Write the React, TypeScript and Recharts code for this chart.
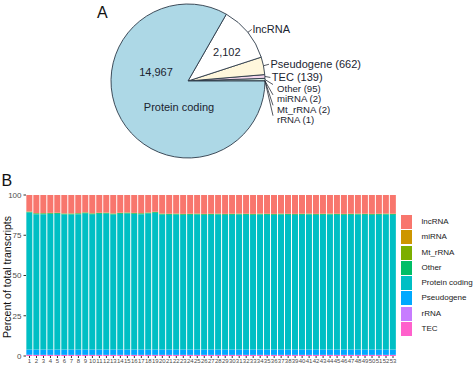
import React from 'react';
import { PieChart, Pie, Cell, BarChart, Bar, XAxis, YAxis } from 'recharts';

// ---- Panel A: transcript biotype counts ----
const pieNames = ['rRNA', 'Mt_rRNA', 'miRNA', 'Other', 'TEC', 'Pseudogene', 'lncRNA', 'Protein coding'];
const pieValues = [1, 2, 2, 95, 139, 662, 2102, 14967];
const pieColors = ['#e6d6f2', '#dcebd2', '#f2e4c4', '#d6efe2', '#f5d8ec', '#fff7dc', '#ffffff', '#add8e6'];

// ---- Panel B: per-sample percentages ----
const samples = [
  '1', '2', '3', '4', '5', '6', '7', '8', '9', '10',
  '11', '12', '13', '14', '15', '16', '17', '18', '19', '20',
  '21', '22', '23', '24', '25', '26', '27', '28', '29', '30',
  '31', '32', '33', '34', '35', '36', '37', '38', '39', '40',
  '41', '42', '43', '44', '45', '46', '47', '48', '49', '50',
  '51', '52', '53',
];
const lncRNA = [
  10.2, 11.2, 11.2, 11.1, 11.0, 11.4, 11.4, 11.2, 10.7, 11.3,
  11.0, 10.9, 11.4, 11.0, 10.8, 11.1, 11.2, 10.8, 10.4, 11.5,
  11.6, 11.5, 11.7, 11.6, 11.5, 11.7, 11.6, 11.5, 11.7, 11.6,
  11.5, 11.6, 11.7, 11.5, 11.6, 11.7, 11.5, 11.6, 11.7, 11.6,
  11.5, 11.7, 11.6, 11.5, 11.6, 11.7, 11.6, 11.5, 11.6, 11.7,
  11.6, 11.5, 11.6,
];
const proteinCoding = [
  85.08, 84.08, 84.08, 84.18, 84.28, 83.88, 83.88, 84.08, 84.58, 83.98,
  84.28, 84.38, 83.88, 84.28, 84.48, 84.18, 84.08, 84.48, 84.88, 83.78,
  83.68, 83.78, 83.58, 83.68, 83.78, 83.58, 83.68, 83.78, 83.58, 83.68,
  83.78, 83.68, 83.58, 83.78, 83.68, 83.58, 83.78, 83.68, 83.58, 83.68,
  83.78, 83.58, 83.68, 83.78, 83.68, 83.58, 83.68, 83.78, 83.68, 83.58,
  83.68, 83.78, 83.68,
];
const pseudogene = [
  3.3, 3.3, 3.3, 3.3, 3.3, 3.3, 3.3, 3.3, 3.3, 3.3,
  3.3, 3.3, 3.3, 3.3, 3.3, 3.3, 3.3, 3.3, 3.3, 3.3,
  3.3, 3.3, 3.3, 3.3, 3.3, 3.3, 3.3, 3.3, 3.3, 3.3,
  3.3, 3.3, 3.3, 3.3, 3.3, 3.3, 3.3, 3.3, 3.3, 3.3,
  3.3, 3.3, 3.3, 3.3, 3.3, 3.3, 3.3, 3.3, 3.3, 3.3,
  3.3, 3.3, 3.3,
];
const tec = [
  0.7, 0.7, 0.7, 0.7, 0.7, 0.7, 0.7, 0.7, 0.7, 0.7,
  0.7, 0.7, 0.7, 0.7, 0.7, 0.7, 0.7, 0.7, 0.7, 0.7,
  0.7, 0.7, 0.7, 0.7, 0.7, 0.7, 0.7, 0.7, 0.7, 0.7,
  0.7, 0.7, 0.7, 0.7, 0.7, 0.7, 0.7, 0.7, 0.7, 0.7,
  0.7, 0.7, 0.7, 0.7, 0.7, 0.7, 0.7, 0.7, 0.7, 0.7,
  0.7, 0.7, 0.7,
];
const rRNA = [
  0.01, 0.01, 0.01, 0.01, 0.01, 0.01, 0.01, 0.01, 0.01, 0.01,
  0.01, 0.01, 0.01, 0.01, 0.01, 0.01, 0.01, 0.01, 0.01, 0.01,
  0.01, 0.01, 0.01, 0.01, 0.01, 0.01, 0.01, 0.01, 0.01, 0.01,
  0.01, 0.01, 0.01, 0.01, 0.01, 0.01, 0.01, 0.01, 0.01, 0.01,
  0.01, 0.01, 0.01, 0.01, 0.01, 0.01, 0.01, 0.01, 0.01, 0.01,
  0.01, 0.01, 0.01,
];
const other = [
  0.5, 0.5, 0.5, 0.5, 0.5, 0.5, 0.5, 0.5, 0.5, 0.5,
  0.5, 0.5, 0.5, 0.5, 0.5, 0.5, 0.5, 0.5, 0.5, 0.5,
  0.5, 0.5, 0.5, 0.5, 0.5, 0.5, 0.5, 0.5, 0.5, 0.5,
  0.5, 0.5, 0.5, 0.5, 0.5, 0.5, 0.5, 0.5, 0.5, 0.5,
  0.5, 0.5, 0.5, 0.5, 0.5, 0.5, 0.5, 0.5, 0.5, 0.5,
  0.5, 0.5, 0.5,
];
const mtRRNA = [
  0.01, 0.01, 0.01, 0.01, 0.01, 0.01, 0.01, 0.01, 0.01, 0.01,
  0.01, 0.01, 0.01, 0.01, 0.01, 0.01, 0.01, 0.01, 0.01, 0.01,
  0.01, 0.01, 0.01, 0.01, 0.01, 0.01, 0.01, 0.01, 0.01, 0.01,
  0.01, 0.01, 0.01, 0.01, 0.01, 0.01, 0.01, 0.01, 0.01, 0.01,
  0.01, 0.01, 0.01, 0.01, 0.01, 0.01, 0.01, 0.01, 0.01, 0.01,
  0.01, 0.01, 0.01,
];
const miRNA = [
  0.2, 0.2, 0.2, 0.2, 0.2, 0.2, 0.2, 0.2, 0.2, 0.2,
  0.2, 0.2, 0.2, 0.2, 0.2, 0.2, 0.2, 0.2, 0.2, 0.2,
  0.2, 0.2, 0.2, 0.2, 0.2, 0.2, 0.2, 0.2, 0.2, 0.2,
  0.2, 0.2, 0.2, 0.2, 0.2, 0.2, 0.2, 0.2, 0.2, 0.2,
  0.2, 0.2, 0.2, 0.2, 0.2, 0.2, 0.2, 0.2, 0.2, 0.2,
  0.2, 0.2, 0.2,
];

// legend order (top -> bottom of stack in the figure)
const seriesNames = ['lncRNA', 'miRNA', 'Mt_rRNA', 'Other', 'Protein coding', 'Pseudogene', 'rRNA', 'TEC'];
const seriesColors = ['#F8766D', '#CD9600', '#7CAE00', '#00BE67', '#00BFC4', '#00A9FF', '#C77CFF', '#FF61CC'];
const yTicks = [0, 25, 50, 75, 100];

const FONT = '"Liberation Sans", Arial, sans-serif';

const pieData = pieNames.map((name, i) => ({ name, value: pieValues[i] }));

const seriesValues: Record<string, number[]> = {
  lncRNA,
  miRNA,
  Mt_rRNA: mtRRNA,
  Other: other,
  'Protein coding': proteinCoding,
  Pseudogene: pseudogene,
  rRNA,
  TEC: tec,
};

const barData = samples.map((sample, i) => {
  const row: Record<string, string | number> = { sample };
  seriesNames.forEach((s) => {
    row[s] = seriesValues[s][i];
  });
  return row;
});

// recharts stacks the first Bar at the bottom, so walk the legend backwards
const stackOrder = [...seriesNames].reverse();

const RAD = Math.PI / 180;
const labelText = { fontSize: 11, fill: '#1b2430', fontFamily: FONT };
const smallText = { fontSize: 9.6, fill: '#1b2430', fontFamily: FONT };
const lineStyle = { stroke: '#2a2f38', strokeWidth: 0.8, fill: 'none' };

const renderPieLabel = (props: any) => {
  const { cx, cy, midAngle, outerRadius, name, value, index } = props;
  const cos = Math.cos(-midAngle * RAD);
  const sin = Math.sin(-midAngle * RAD);
  const ex = cx + outerRadius * cos;
  const ey = cy + outerRadius * sin;
  const fmt = Number(value).toLocaleString('en-US');

  if (name === 'Protein coding') {
    return (
      <g key={`lbl-${index}`}>
        <text x={cx - 32} y={cy - 9} textAnchor="middle" dominantBaseline="central" {...labelText}>{fmt}</text>
        <text x={cx - 9} y={cy + 26} textAnchor="middle" dominantBaseline="central" {...labelText}>{name}</text>
      </g>
    );
  }
  if (name === 'lncRNA') {
    const ix = cx + outerRadius * 0.6 * cos + 3;
    const iy = cy + outerRadius * 0.6 * sin;
    return (
      <g key={`lbl-${index}`}>
        <text x={ix} y={iy} textAnchor="middle" dominantBaseline="central" {...labelText}>{fmt}</text>
        <path d={`M${ex},${ey}L${ex + 4},${ey - 3}`} {...lineStyle} />
        <text x={ex + 5} y={ey - 3} dominantBaseline="central" {...labelText}>{name}</text>
      </g>
    );
  }
  if (name === 'Pseudogene' || name === 'TEC') {
    const lift = name === 'Pseudogene' ? -1.5 : 1;
    return (
      <g key={`lbl-${index}`}>
        <path d={`M${ex},${ey}L${ex + 5.5},${ey + lift}`} {...lineStyle} />
        <text x={ex + 7} y={ey + lift} dominantBaseline="central" {...labelText}>{`${name} (${fmt})`}</text>
      </g>
    );
  }
  // tiny slices fan out downwards
  const tx = cx + outerRadius + 12;
  const ty = cy + 7.5 + (3 - index) * 10.4;
  return (
    <g key={`lbl-${index}`}>
      <path d={`M${ex},${ey}L${tx - 4},${ty - 4}`} {...lineStyle} />
      <text x={tx} y={ty} dominantBaseline="central" {...smallText}>{`${name} (${fmt})`}</text>
    </g>
  );
};

const App: React.FC = () => {
  return (
    <div style={{ position: 'absolute', left: 0, top: 0, width: 474, height: 367, background: '#fff', fontFamily: FONT }}>
      {/* Panel A pie */}
      <div style={{ position: 'absolute', left: 0, top: 0 }}>
        <PieChart width={474} height={170}>
          <Pie
            data={pieData}
            dataKey="value"
            nameKey="name"
            cx={183}
            cy={76}
            outerRadius={77}
            startAngle={0}
            endAngle={360}
            stroke="#2c3a48"
            strokeWidth={0.9}
            label={renderPieLabel}
            labelLine={false}
            isAnimationActive={false}
          >
            {pieData.map((d, i) => (
              <Cell key={`pie-${d.name}`} fill={pieColors[i]} />
            ))}
          </Pie>
        </PieChart>
      </div>

      {/* Panel B stacked bars */}
      <div style={{ position: 'absolute', left: 0, top: 170 }}>
        <BarChart
          width={474}
          height={197}
          data={barData}
          margin={{ top: 25, right: 77.5, left: 0, bottom: 0 }}
          barCategoryGap="5%"
        >
          <XAxis
            dataKey="sample"
            interval={0}
            height={11}
            tickSize={2}
            tickMargin={1}
            axisLine={false}
            tickLine={{ stroke: '#333' }}
            tick={{ fontSize: 6, fill: '#4d4d4d', fontFamily: FONT }}
          />
          <YAxis
            type="number"
            domain={[0, 100]}
            ticks={yTicks}
            width={26}
            tickSize={2.5}
            tickMargin={2}
            axisLine={false}
            tickLine={{ stroke: '#333' }}
            tick={{ fontSize: 8, fill: '#4d4d4d', fontFamily: FONT }}
            allowDataOverflow
          />
          {stackOrder.map((s) => (
            <Bar
              key={s}
              dataKey={s}
              stackId="a"
              fill={seriesColors[seriesNames.indexOf(s)]}
              isAnimationActive={false}
            />
          ))}
        </BarChart>
      </div>

      {/* panel letters and y title */}
      <svg width={474} height={367} style={{ position: 'absolute', left: 0, top: 0, pointerEvents: 'none' }}>
        <text x={97} y={18} fontSize={16} fontFamily={FONT} fill="#111">A</text>
        <text x={1.5} y={186} fontSize={16} fontFamily={FONT} fill="#111">B</text>
        <text
          x={7}
          y={277}
          fontSize={10.5}
          fontFamily={FONT}
          fill="#111"
          textAnchor="middle"
          dominantBaseline="central"
          transform="rotate(-90 7 277)"
        >
          Percent of total transcripts
        </text>
      </svg>

      {/* legend */}
      <div style={{ position: 'absolute', left: 401, top: 215 }}>
        {seriesNames.map((s, i) => (
          <div key={s} style={{ position: 'relative', height: 15.3 }}>
            <span
              style={{
                position: 'absolute',
                left: 0,
                top: 0,
                width: 11,
                height: 14,
                background: seriesColors[i],
              }}
            />
            <span
              style={{
                position: 'absolute',
                left: 20.5,
                top: 7,
                transform: 'translateY(-50%)',
                fontSize: 8,
                lineHeight: '8px',
                color: '#1a1a1a',
                whiteSpace: 'nowrap',
              }}
            >
              {s}
            </span>
          </div>
        ))}
      </div>
    </div>
  );
};

export default App;
